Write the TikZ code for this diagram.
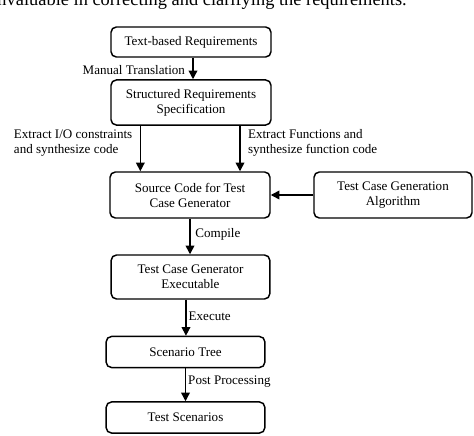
\documentclass[tikz,border=0pt]{standalone}
\usepackage{fontspec}
\setmainfont{Liberation Serif}
\usetikzlibrary{arrows.meta}
\tikzset{
  stagebox/.style={draw, line width=1.1pt, rounded corners=4pt, align=center,
    inner sep=0pt, font=\fontsize{9.8}{11.3}\selectfont},
  flow/.style={line width=1.1pt, -{Triangle[length=6.5pt,width=6.5pt]}},
  steplabel/.style={font=\fontsize{9.8}{11.3}\selectfont, inner sep=1.5pt}
}

\begin{document}
\begin{tikzpicture}[x=0.75pt,y=-0.75pt]
  \useasboundingbox (0,0) rectangle (474,435);
  \clip (0,0) rectangle (474,435);
  % cut-off line of the page text above the figure
  \node[anchor=base east, inner sep=0pt, font=\fontsize{13.8}{16}\selectfont] (pagetext) at (407,5.5)
    {invaluable in correcting and clarifying the requirements.};

  % boxes
  \node[stagebox, minimum width=120pt, minimum height=22.5pt] (txtreq) at (191,42) {Text-based Requirements};
  \node[stagebox, minimum width=120pt, minimum height=33.8pt] (strreq) at (191,102.5) {Structured Requirements\\Specification};
  \node[stagebox, minimum width=120pt, minimum height=34.5pt] (srccode) at (190,195) {Source Code for Test\\Case Generator};
  \node[stagebox, minimum width=118.5pt, minimum height=34.5pt] (tcalg) at (393,195) {Test Case Generation\\Algorithm};
  \node[stagebox, minimum width=119pt, minimum height=33pt] (tcgen) at (190.5,277) {Test Case Generator\\Executable};
  \node[stagebox, minimum width=119pt, minimum height=23.3pt] (scentree) at (185.5,352) {Scenario Tree};
  \node[stagebox, minimum width=119pt, minimum height=23.3pt] (testscen) at (185.5,417.5) {Test Scenarios};

  % connectors
  \coordinate (manual) at ([xshift=1.5pt]txtreq.south);
  \draw[flow] (manual) -- node[steplabel, left, pos=0.55, xshift=-4pt] {Manual Translation} (manual |- strreq.north);
  \coordinate (iocode) at ([xshift=-38pt]strreq.south);
  \draw[flow] (iocode) -- node[steplabel, left, align=left, pos=0.38, xshift=-4pt] {Extract I/O constraints\\and synthesize code} (iocode |- srccode.north);
  \coordinate (fncode) at ([xshift=36.75pt]strreq.south);
  \draw[flow] (fncode) -- node[steplabel, right, align=left, pos=0.38, xshift=4pt] {Extract Functions and\\synthesize function code} (fncode |- srccode.north);
  \draw[flow] (tcalg.west) -- (tcalg.west -| srccode.east);
  \coordinate (compile) at (srccode.south);
  \draw[flow] (compile) -- node[steplabel, right, pos=0.45, xshift=2pt] {Compile} (compile |- tcgen.north);
  \coordinate (exec) at ([xshift=-3.4pt]tcgen.south);
  \draw[flow] (exec) -- node[steplabel, right, pos=0.45] {Execute} (exec |- scentree.north);
  \draw[flow] (scentree.south) -- node[steplabel, right, pos=0.4] {Post Processing} (testscen.north);
\end{tikzpicture}
\end{document}
